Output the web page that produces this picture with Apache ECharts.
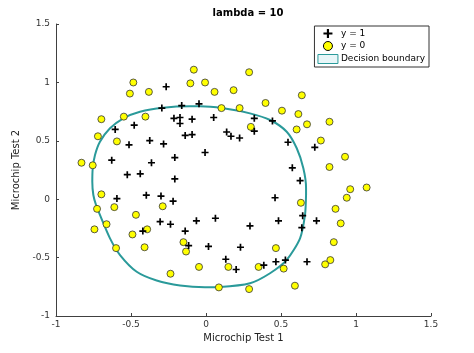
<!DOCTYPE html>
<html>
<head>
<meta charset="utf-8">
<script src="https://cdn.jsdelivr.net/npm/echarts@6/dist/echarts.min.js"></script>
<style>
  html, body { margin: 0; padding: 0; background: #fff; }
  #chart { width: 474px; height: 353px; }
</style>
</head>
<body>
<div id="chart"></div>
<script>
// y = 1 (accepted)
const posPoints = [
  [0.051267, 0.69956], [-0.092742, 0.68494], [-0.21371, 0.69225], [-0.375, 0.50219],
  [-0.51325, 0.46564], [-0.52477, 0.2098], [-0.39804, 0.034357], [-0.30588, -0.19225],
  [0.016705, -0.40424], [0.13191, -0.51389], [0.38537, -0.56506], [0.52938, -0.5212],
  [0.63882, -0.24342], [0.73675, -0.18494], [0.54666, 0.48757], [0.322, 0.5826],
  [0.16647, 0.53874], [-0.046659, 0.81652], [-0.17339, 0.69956], [-0.47869, 0.63377],
  [-0.60541, 0.59722], [-0.62846, 0.33406], [-0.59389, 0.005117], [-0.42108, -0.27266],
  [-0.11578, -0.39693], [0.20104, -0.60161], [0.46601, -0.53582], [0.67339, -0.53582],
  [-0.13882, 0.54605], [-0.29435, 0.77997], [-0.26555, 0.96272], [-0.16187, 0.8019],
  [-0.17339, 0.64839], [-0.28283, 0.47295], [-0.36348, 0.31213], [-0.30012, 0.027047],
  [-0.23675, -0.21418], [-0.06394, -0.18494], [0.062788, -0.16301], [0.22984, -0.41155],
  [0.2932, -0.2288], [0.48329, -0.18494], [0.64459, -0.14108], [0.46025, 0.012427],
  [0.6273, 0.15863], [0.57546, 0.26827], [0.72523, 0.44371], [0.22408, 0.52412],
  [0.44297, 0.67032], [0.322, 0.69225], [0.13767, 0.57529], [-0.0063364, 0.39985],
  [-0.092742, 0.55336], [-0.20795, 0.35599], [-0.20795, 0.17325], [-0.43836, 0.21711],
  [-0.21947, -0.016813], [-0.13882, -0.27266]
]

// y = 0 (rejected)
const negPoints = [
  [0.18376, 0.93348], [0.22408, 0.77997], [0.29896, 0.61915], [0.50634, 0.75804],
  [0.61578, 0.7288], [0.60426, 0.59722], [0.76555, 0.50219], [0.92684, 0.3633],
  [0.82316, 0.27558], [0.96141, 0.085526], [0.93836, 0.012427], [0.86348, -0.082602],
  [0.89804, -0.20687], [0.85196, -0.36769], [0.82892, -0.5212], [0.79435, -0.55775],
  [0.59274, -0.7405], [0.51786, -0.5943], [0.46601, -0.41886], [0.35081, -0.57968],
  [0.28744, -0.76974], [0.085829, -0.75512], [0.14919, -0.57968], [-0.13306, -0.4481],
  [-0.40956, -0.41155], [-0.39228, -0.25804], [-0.74366, -0.25804], [-0.69758, 0.041667],
  [-0.75518, 0.2902], [-0.69758, 0.68494], [-0.4038, 0.70687], [-0.38076, 0.91886],
  [-0.50749, 0.90424], [-0.54781, 0.70687], [0.10311, 0.77997], [0.057028, 0.91886],
  [-0.10426, 0.99196], [-0.081221, 1.1089], [0.28744, 1.087], [0.39689, 0.82383],
  [0.63882, 0.88962], [0.82316, 0.66301], [0.67339, 0.64108], [1.0709, 0.10015],
  [-0.046659, -0.57968], [-0.23675, -0.63816], [-0.15035, -0.36769], [-0.49021, -0.3019],
  [-0.46717, -0.13377], [-0.28859, -0.0606], [-0.61118, -0.067982], [-0.66302, -0.21418],
  [-0.59965, -0.41886], [-0.72638, -0.082602], [-0.83007, 0.31213], [-0.72062, 0.53874],
  [-0.59389, 0.49488], [-0.48445, 0.99927], [-0.0063364, 0.99927], [0.63265, -0.030612]
]

// decision boundary (closed loop)
const boundary = [
  [0.667, 0.036], [0.667, 0.096], [0.649, 0.265], [0.605, 0.436], [0.538, 0.578],
  [0.427, 0.678], [0.293, 0.735], [0.115, 0.778], [-0.04, 0.795], [-0.107, 0.795],
  [-0.285, 0.783], [-0.44, 0.749], [-0.551, 0.693], [-0.64, 0.607], [-0.707, 0.492],
  [-0.74, 0.378], [-0.755, 0.265], [-0.758, 0.15], [-0.751, 0.036], [-0.733, -0.05],
  [-0.707, -0.135], [-0.64, -0.335], [-0.573, -0.478], [-0.462, -0.621], [-0.329, -0.696],
  [-0.173, -0.739], [-0.007, -0.754], [0.093, -0.752], [0.293, -0.72], [0.427, -0.634],
  [0.538, -0.52], [0.627, -0.335], [0.66, -0.135], [0.667, 0.036]
]

const xTicks = [-1, 1.5, 0.5] // min, max, interval
const yTicks = [-1, 1.5, 0.5]

const plusPath = 'path://M3.8,0H6.2V3.8H10V6.2H6.2V10H3.8V6.2H0V3.8H3.8Z'
const fontFam = 'DejaVu Sans, Verdana, sans-serif'
const axisColor = '#404040'

const chart = echarts.init(document.getElementById('chart'))

const axisCommon = {
  type: 'value',
  axisLine: { show: true, onZero: false, lineStyle: { color: axisColor, width: 1 } },
  axisTick: { show: true, inside: true, length: 3, lineStyle: { color: axisColor } },
  splitLine: { show: false },
  axisLabel: { color: '#333', fontSize: 9, fontFamily: fontFam, showMinLabel: true, showMaxLabel: true },
  nameLocation: 'middle',
  nameTextStyle: { color: '#222', fontSize: 10, fontFamily: fontFam }
}

chart.setOption({
  animation: false,
  backgroundColor: '#fff',
  title: {
    text: 'lambda = 10',
    left: 243,
    textAlign: 'center',
    top: 3,
    textStyle: { fontSize: 10, fontWeight: 'bold', color: '#000', fontFamily: fontFam }
  },
  grid: { left: 56, right: 43, top: 24, bottom: 37 },
  xAxis: Object.assign({}, axisCommon, {
    min: xTicks[0], max: xTicks[1], interval: xTicks[2],
    name: 'Microchip Test 1', nameGap: 16,
    axisLabel: Object.assign({}, axisCommon.axisLabel, { margin: 4 })
  }),
  yAxis: Object.assign({}, axisCommon, {
    min: yTicks[0], max: yTicks[1], interval: yTicks[2],
    name: 'Microchip Test 2', nameGap: 24,
    axisLabel: Object.assign({}, axisCommon.axisLabel, { margin: 6 })
  }),
  legend: {
    orient: 'vertical',
    right: 45,
    top: 26,
    padding: [3, 4, 3, 3],
    itemGap: 3,
    itemWidth: 20,
    itemHeight: 9,
    borderColor: '#333',
    borderWidth: 1,
    backgroundColor: '#fff',
    textStyle: { fontSize: 9, fontFamily: fontFam, color: '#000', padding: [0, 0, 0, -2] },
    data: [
      { name: 'y = 1', icon: plusPath, itemStyle: { color: '#000' } },
      { name: 'y = 0', icon: 'circle', itemStyle: { color: '#ffff00', borderColor: '#000', borderWidth: 1 } },
      { name: 'Decision boundary', icon: 'rect', itemStyle: { color: '#e8f6f8', borderColor: '#2a9a9a', borderWidth: 1 } }
    ]
  },
  series: [
    {
      name: 'Decision boundary',
      type: 'line',
      data: boundary,
      smooth: 0.25,
      showSymbol: false,
      lineStyle: { color: '#2a9a9a', width: 2 },
      itemStyle: { color: '#2a9a9a' },
      z: 1
    },
    {
      name: 'y = 1',
      type: 'scatter',
      data: posPoints,
      symbol: plusPath,
      symbolSize: 7,
      itemStyle: { color: '#000', opacity: 1 },
      z: 3
    },
    {
      name: 'y = 0',
      type: 'scatter',
      data: negPoints,
      symbol: 'circle',
      symbolSize: 7,
      itemStyle: { color: '#ffff00', borderColor: '#333', borderWidth: 0.8, opacity: 1 },
      z: 2
    }
  ]
})
</script>
</body>
</html>
